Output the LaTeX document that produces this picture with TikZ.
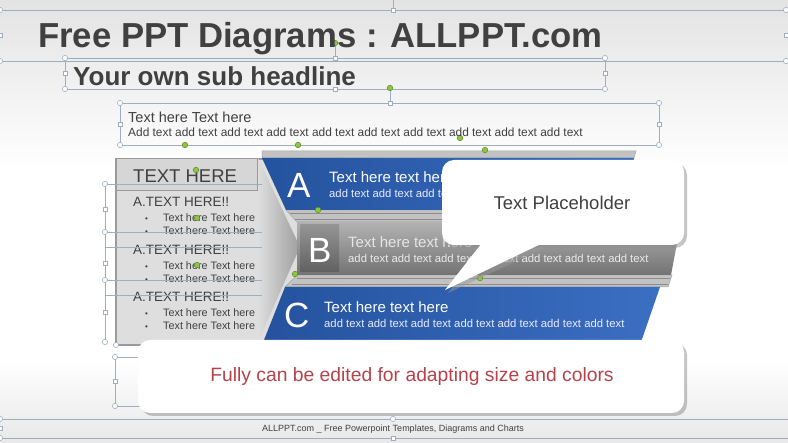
\documentclass[tikz,border=0pt]{standalone}
\usepackage{fontspec}
\setmainfont{Liberation Sans}
\definecolor{frm}{HTML}{9DAEC2}
\definecolor{hgreen}{HTML}{8CC63F}
\definecolor{titlec}{HTML}{404040}
\definecolor{blueL}{HTML}{3B6FC2}
\definecolor{blueD}{HTML}{24529E}
\definecolor{redt}{HTML}{B5434A}
\definecolor{panel}{HTML}{DEDEDE}
\definecolor{panelb}{HTML}{9A9A9A}
\definecolor{grayD}{HTML}{7C7C7C}
\definecolor{grayL}{HTML}{A8A8A8}
\newcommand\hndc[2]{\draw[frm, fill=white, line width=0.6pt] (#1,#2) circle[radius=2.6];}
\newcommand\hnds[2]{\draw[frm, fill=white, line width=0.6pt] (#1-2,#2-2) rectangle (#1+2,#2+2);}
\newcommand\hndg[2]{\draw[hgreen!70!black, fill=hgreen, line width=0.5pt] (#1,#2) circle[radius=2.8];}
\tikzset{
  frame/.style={draw=frm, line width=0.8pt},
  txt/.style={anchor=base west, inner sep=0pt},
  strip/.style={fill=grayL!70, draw=grayL, line width=0.5pt},
}
\begin{document}
\begin{tikzpicture}[x=1pt,y=-1pt]
\useasboundingbox (0,0) rectangle (788,443);
% background
\shade[top color=black!11, bottom color=white] (0,0) rectangle (788,170);
\fill[white] (0,170) rectangle (788,360);
\shade[top color=white, bottom color=black!9] (0,360) rectangle (788,443);

% ---------- frames (selection) ----------
\draw[frame] (0,10) -- (788,10);
\draw[frame] (0,61) -- (788,61);
\draw[frame] (393,0) -- (393,10);
\hnds{393}{10}\hnds{0}{35}\hnds{786}{35}\hndc{0}{61}\hndc{786}{61}\hndc{0}{10}\hndc{786}{10}
\draw[frame] (65,58) rectangle (605,89);
\draw[frame] (335,43) -- (335,58);
\hndc{65}{58}\hndc{605}{58}\hndc{65}{89}\hndc{605}{89}\hnds{335}{58}\hnds{335}{89}\hnds{65}{73}\hnds{605}{73}\hndg{335}{43}
\draw[frame] (120,103) rectangle (659,145);
\draw[frame] (390,88) -- (390,103);
\hndc{120}{103}\hndc{659}{103}\hndc{120}{145}\hndc{659}{145}\hnds{390}{103}\hnds{120}{124}\hnds{659}{124}\hndg{390}{88}
\draw[frame] (0,419) -- (788,419);
\draw[frame] (0,438) -- (788,438);
\hndc{0}{419}\hndc{0}{438}\hnds{0}{428}\hndc{393}{419}\hnds{393}{438}

% ---------- left panel ----------
\draw[fill=panel, draw=panelb, line width=1.5pt] (116,159) rectangle (300,345);
\shade[left color=panel, right color=black!38] (258,158) -- (300,247) -- (258,342) -- cycle;
\draw[fill=black!16, draw=panelb, line width=1pt] (116,159) rectangle (257,191);
\node[txt, font={\fontsize{18.5}{20}\selectfont}, text=titlec] (th) at (133,183) {TEXT HERE};
\foreach \i/\y in {1/207,2/255,3/302}{
  \node[txt, font={\fontsize{13.5}{15}\selectfont}, text=titlec] (s\i) at (133,\y) {A.TEXT HERE!!};
  \node[txt, font={\fontsize{8}{9}\selectfont}, text=titlec] (ba\i) at (145,\y+15) {•};
  \node[txt, font={\fontsize{10.8}{12}\selectfont}, text=titlec] (ta\i) at (163,\y+15) {Text here Text here};
  \node[txt, font={\fontsize{8}{9}\selectfont}, text=titlec] (bb\i) at (145,\y+28) {•};
  \node[txt, font={\fontsize{10.8}{12}\selectfont}, text=titlec] (tb\i) at (163,\y+28) {Text here Text here};
}
% frames on panel
\draw[frame] (105,184) -- (105,342);
\foreach \y in {184,232,247,280,295}{\draw[frame] (105,\y) -- (262,\y);}
\hndc{105}{184}\hndc{105}{232}\hndc{105}{280}\hndc{105}{342}\hndc{116}{345}\hnds{105}{209}\hnds{105}{263}\hnds{105}{312}
\draw[frame] (115,357) -- (140,357);
\draw[frame] (115,406) -- (140,406);
\draw[frame] (115,357) -- (115,406);
\hndc{115}{357}\hndc{115}{406}\hnds{115}{381}

% ---------- bars ----------
% strips
\fill[strip] (262,151) -- (636,151) -- (634,158) -- (262,158) -- cycle;
\fill[strip] (286,210) -- (630,210) -- (628,222) -- (297,222) -- cycle;
\draw[black!45, line width=0.7pt] (290,213) -- (629,213);
\draw[black!45, line width=0.7pt] (295,219) -- (629,219);
\fill[strip] (297,275) -- (672,275) -- (668,287) -- (285,287) -- cycle;
\draw[black!45, line width=0.7pt] (297,278) -- (670,278);
\draw[black!45, line width=0.7pt] (292,284) -- (668,284);
% A
\shade[left color=blueD, right color=blueL] (262,158) -- (634,158) -- (626,210) -- (286,210) -- cycle;
% B
\shade[top color=black!30, bottom color=black!55] (297,222) -- (681,222) -- (671,275) -- (297,275) -- cycle;
\shade[top color=black!42, bottom color=black!62] (300,225) rectangle (339,272);
% C
\shade[left color=blueD, right color=blueL] (285,287) -- (660,287) -- (640,345) -- (262,345) -- cycle;

\node[txt, font={\fontsize{35}{36}\selectfont}, text=white] (la) at (287,198) {A};
\node[txt, font={\fontsize{35}{36}\selectfont}, text=white] (lb) at (308,263) {B};
\node[txt, font={\fontsize{35}{36}\selectfont}, text=white] (lc) at (284,328) {C};
\begin{scope}
\clip (250,150) rectangle (442,215);
\node[txt, font={\fontsize{15}{16}\selectfont}, text=white] (ta) at (329,183) {Text here text here};
\node[txt, font={\fontsize{11.3}{12}\selectfont}, text=white!92!blue] (aa) at (329,198) {add text add text add text};
\end{scope}
\node[txt, font={\fontsize{15}{16}\selectfont}, text=black!10] (tbb) at (348,248) {Text here text here};
\node[txt, font={\fontsize{11.3}{12}\selectfont}, text=black!8] (ab) at (348,263) {add text add text add text add text add text add text add text};
\node[txt, font={\fontsize{15}{16}\selectfont}, text=white] (tc) at (324,313) {Text here text here};
\node[txt, font={\fontsize{11.3}{12}\selectfont}, text=white!92!blue] (ac) at (324,328) {add text add text add text add text add text add text add text};

% a few handles on the bars
\hndg{185}{145}\hndg{298}{145}\hndg{460}{138}\hndg{485}{150}\hndg{196}{170}\hndg{318}{210}\hndg{295}{274}\hndg{480}{278}\hndg{197}{218}\hndg{197}{265}

% ---------- callouts ----------
\fill[black!45, opacity=0.5] (445,163) [rounded corners=12] -- (687,163) -- (687,248) -- (445,248) -- cycle;
\fill[black!40, opacity=0.5] (485,247) -- (547,247) -- (448,293) -- cycle;
\fill[white, rounded corners=12] (442,160) rectangle (684,245);
\fill[white] (482,243) -- (543,243) -- (445,290) -- cycle;
\node[font={\fontsize{18.5}{20}\selectfont}, text=titlec, inner sep=0pt] (tp) at (562,203) {Text Placeholder};

\fill[black!45, opacity=0.5, rounded corners=12] (141,343) rectangle (687,416);
\fill[white, rounded corners=12] (138,340) rectangle (684,413);
\node[font={\fontsize{19.3}{21}\selectfont}, text=redt, inner sep=0pt] (fc) at (412,377) {Fully can be edited for adapting size and colors};

% ---------- titles ----------
\node[txt, font={\fontsize{34.7}{40}\selectfont\bfseries}, text=titlec] (title) at (38,48) {Free PPT Diagrams : ALLPPT.com};
\node[txt, font={\fontsize{26}{30}\selectfont\bfseries}, text=titlec] (sub) at (73,86) {Your own sub headline};
\node[txt, font={\fontsize{14.5}{16}\selectfont}, text=titlec] (t1) at (128,123) {Text here Text here};
\node[txt, font={\fontsize{11.9}{13}\selectfont}, text=titlec] (t2) at (128,137) {Add text add text add text add text add text add text add text add text add text add text};
\node[font={\fontsize{9}{10}\selectfont}, text=titlec, inner sep=0pt] (foot) at (393,429) {ALLPPT.com \_ Free Powerpoint Templates, Diagrams and Charts};
\end{tikzpicture}
\end{document}
